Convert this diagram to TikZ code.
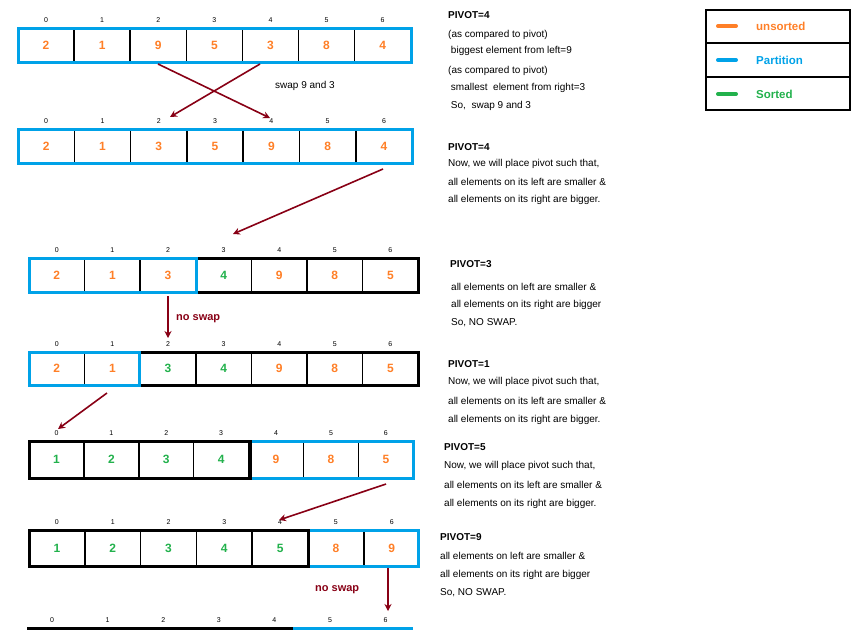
\documentclass[tikz,border=0pt]{standalone}
\usepackage{fontspec}
\setmainfont{Liberation Sans}
\usetikzlibrary{arrows.meta}
\definecolor{uo}{HTML}{FF7F27}
\definecolor{ub}{HTML}{00A2E8}
\definecolor{ug}{HTML}{22B14C}
\definecolor{dr}{HTML}{880015}
\begin{document}
\begin{tikzpicture}[x=1pt,y=-1pt,
  idx/.style={font=\fontsize{7}{8}\selectfont},
  num/.style={font=\fontsize{12}{14}\selectfont\bfseries},
  txt/.style={anchor=west,font=\fontsize{10}{12}\selectfont,inner sep=0},
  piv/.style={anchor=west,font=\fontsize{10}{12}\selectfont\bfseries,inner sep=0},
  arr/.style={dr,line width=1.6pt,-{Stealth[length=7pt,width=7pt]}},
  bluebox/.style={draw=ub,line width=3pt},
  blackbox/.style={draw=black,line width=3pt}]
\useasboundingbox (0,0) rectangle (861,630);
\newcommand{\arow}[6]{%
  \pgfmathsetmacro{\yc}{(#3+#4)/2}%
  \pgfmathsetmacro{\yi}{#3-8}%
  \foreach \v/\c [count=\i from 0] in {#5} {
    \pgfmathsetmacro{\xa}{#1+\i*#2}
    \pgfmathsetmacro{\xc}{#1+(\i+0.5)*#2}
    \node[idx] (#6i\i) at (\xc,\yi) {\i};
    \node[num,text=\c] (#6n\i) at (\xc,\yc) {\v};
    \ifnum\i>0 \draw[line width=1.5pt] (\xa,#3) -- (\xa,#4);\fi
  }}
% Row 1
\arow{18}{56.1}{28}{62}{2/uo,1/uo,9/uo,5/uo,3/uo,8/uo,4/uo}{a}
\draw[bluebox] (18,28) rectangle (411,62);
% Row 2
\arow{18}{56.3}{129}{163}{2/uo,1/uo,3/uo,5/uo,9/uo,8/uo,4/uo}{b}
\draw[bluebox] (18,129) rectangle (412,163);
% Row 3
\arow{29}{55.6}{258}{292}{2/uo,1/uo,3/uo,4/ug,9/uo,8/uo,5/uo}{c}
\draw[blackbox] (196,258) rectangle (418,292);
\draw[bluebox] (29,258) rectangle (196,292);
% Row 4
\arow{29}{55.6}{352}{385}{2/uo,1/uo,3/ug,4/ug,9/uo,8/uo,5/uo}{d}
\draw[blackbox] (139,352) rectangle (418,385);
\draw[bluebox] (29,352) rectangle (139,385);
% Row 5
\arow{29}{54.9}{441}{478}{1/ug,2/ug,3/ug,4/ug,9/uo,8/uo,5/uo}{e}
\draw[bluebox] (250,441) rectangle (413,478);
\draw[blackbox] (29,441) rectangle (250,478);
% Row 6
\arow{29}{55.8}{530}{566}{1/ug,2/ug,3/ug,4/ug,5/ug,8/uo,9/uo}{f}
\draw[bluebox] (308,530) rectangle (418,566);
\draw[blackbox] (29,530) rectangle (308,566);
% Row 7 (cut)
\foreach \i in {0,...,6} \node[idx] (gi\i) at (52+\i*55.6,620) {\i};
\draw[blackbox] (27,628) -- (293,628);
\draw[bluebox] (293,628) -- (413,628);
% arrows
\coordinate (p1) at (158,64); \coordinate (q1) at (270,118);
\coordinate (p2) at (260,64); \coordinate (q2) at (170,117);
\draw[arr] (p1) -- (q1); \draw[arr] (p2) -- (q2);
\node[txt] (s1) at (275,86) {swap 9 and 3};
\coordinate (p3) at (383,169); \coordinate (q3) at (233,234);
\draw[arr] (p3) -- (q3);
\coordinate (p4) at (168,296); \coordinate (q4) at (168,338);
\draw[arr] (p4) -- (q4);
\node[piv,text=dr,font=\fontsize{11}{12}\selectfont\bfseries] (ns1) at (176,319) {no swap};
\coordinate (p5) at (107,393); \coordinate (q5) at (58,429);
\draw[arr] (p5) -- (q5);
\coordinate (p6) at (386,484); \coordinate (q6) at (279,520);
\draw[arr] (p6) -- (q6);
\coordinate (p7) at (388,568); \coordinate (q7) at (388,611);
\draw[arr] (p7) -- (q7);
\node[piv,text=dr,font=\fontsize{11}{12}\selectfont\bfseries] (ns2) at (315,590) {no swap};
% text blocks
\node[piv] (t1) at (448,15) {PIVOT=4};
\node[txt] (t1a) at (448,35) {(as compared to pivot)};
\node[txt] (t1b) at (448,51) {\ biggest element from left=9};
\node[txt] (t1c) at (448,71) {(as compared to pivot)};
\node[txt] (t1d) at (448,88) {\ smallest\ \ element from right=3};
\node[txt] (t1e) at (448,106) {\ So,\ \ swap 9 and 3};
\node[piv] (t2) at (448,147) {PIVOT=4};
\node[txt] (t2a) at (448,164) {Now, we will place pivot such that,};
\node[txt] (t2b) at (448,182) {all elements on its left are smaller \&};
\node[txt] (t2c) at (448,200) {all elements on its right are bigger.};
\node[piv] (t3) at (450,264) {PIVOT=3};
\node[txt] (t3a) at (451,287) {all elements on left are smaller \&};
\node[txt] (t3b) at (451,305) {all elements on its right are bigger};
\node[txt] (t3c) at (451,323) {So, NO SWAP.};
\node[piv] (t4) at (448,364) {PIVOT=1};
\node[txt] (t4a) at (448,382) {Now, we will place pivot such that,};
\node[txt] (t4b) at (448,401) {all elements on its left are smaller \&};
\node[txt] (t4c) at (448,420) {all elements on its right are bigger.};
\node[piv] (t5) at (444,447) {PIVOT=5};
\node[txt] (t5a) at (444,466) {Now, we will place pivot such that,};
\node[txt] (t5b) at (444,485) {all elements on its left are smaller \&};
\node[txt] (t5c) at (444,504) {all elements on its right are bigger.};
\node[piv] (t6) at (440,537) {PIVOT=9};
\node[txt] (t6a) at (440,556) {all elements on left are smaller \&};
\node[txt] (t6b) at (440,575) {all elements on its right are bigger};
\node[txt] (t6c) at (440,593) {So, NO SWAP.};
% legend
\draw[line width=2pt] (706,10) rectangle (850,110);
\draw[line width=2pt] (706,43) -- (850,43) (706,77) -- (850,77);
\draw[uo,line width=4pt,line cap=round] (718,26) -- (736,26);
\draw[ub,line width=4pt,line cap=round] (718,60) -- (736,60);
\draw[ug,line width=4pt,line cap=round] (718,94) -- (736,94);
\node[piv,text=uo,font=\fontsize{11.5}{13}\selectfont\bfseries] (l1) at (756,26) {unsorted};
\node[piv,text=ub,font=\fontsize{11.5}{13}\selectfont\bfseries] (l2) at (756,60) {Partition};
\node[piv,text=ug,font=\fontsize{11.5}{13}\selectfont\bfseries] (l3) at (756,94) {Sorted};
\end{tikzpicture}
\end{document}
